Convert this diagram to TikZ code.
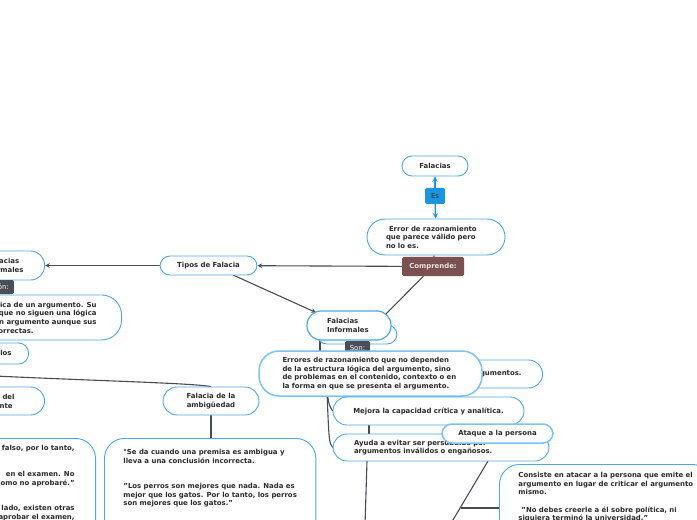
\documentclass[tikz,border=0pt]{standalone}
\usepackage{fontspec}
\setmainfont{DejaVu Sans}
\usetikzlibrary{arrows, positioning, backgrounds}
\definecolor{boxblue}{HTML}{4AA8E8}
\definecolor{liteblue}{HTML}{7CC2F2}
\definecolor{linegray}{HTML}{474B52}
\definecolor{tagblue}{HTML}{1B95E0}
\definecolor{tagbrown}{HTML}{7B5050}
\definecolor{taggray}{HTML}{4A4E55}
\definecolor{inkdark}{HTML}{2A2A2A}
\tikzset{
	box/.style={draw=boxblue, line width=0.9bp, fill=white, rounded corners=10bp, inner sep=0pt, text=inkdark, align=left, font=\fontsize{6.95}{8.6}\selectfont\bfseries},
	bigbox/.style={box, rounded corners=20bp, inner xsep=19bp, inner ysep=11bp},
	litebox/.style={box, draw=liteblue, line width=1.5bp},
	tag/.style={rounded corners=1.5bp, inner sep=0pt, font=\fontsize{6.95}{8.6}\selectfont},
	link/.style={draw=linegray, line width=1.1bp, >=stealth}
}
\begin{document}
\begin{tikzpicture}[x=1bp, y=-1bp]
	\useasboundingbox (0,0) rectangle (697,520);

	\node[box, minimum width=66bp, minimum height=20bp] (falacias) at (435,166) {Falacias};
	\node[tag, fill=tagblue, text=inkdark, minimum width=20bp, minimum height=16bp] (es) at (435,196) {Es};
	\node[box, rounded corners=18bp, minimum width=138bp, minimum height=36bp, text width=100bp] (error) at (436,237) {\hspace*{3bp}Error de razonamiento\\que parece válido pero\\no lo es.};
	\node[tag, fill=tagbrown, text=white!85!tagbrown, font=\fontsize{6.95}{8.6}\selectfont\bfseries, minimum width=62bp, minimum height=19bp] (comprende) at (433,266.5) {Comprende:};
	\node[box, minimum width=97bp, minimum height=19bp] (tipos) at (208.5,265.5) {Tipos de Falacia};

	%parte izquierda
	\node[box, rounded corners=14bp, anchor=east, inner xsep=21bp, minimum height=29bp] (formales) at (45,265.5) {Falacias\\Formales};
	\node[tag, fill=taggray, text=white, anchor=east, inner xsep=5bp, minimum height=14bp] (definicion) at (14,287) {Definición:};
	\node[box, rounded corners=20bp, anchor=east, inner xsep=25bp, minimum height=45bp, align=right] (logica) at (122,317.5) {la lógica de un argumento. Su\\es que no siguen una lógica\hspace*{3bp}\\un argumento aunque sus\hspace*{11bp}\\son correctas.\hspace*{63bp}};
	\node[box, anchor=east, inner xsep=17bp, minimum height=21bp] (ejemplos) at (29,353.5) {Ejemplos};
	\node[box, rounded corners=14bp, anchor=east, inner xsep=30bp, minimum height=28bp, align=right] (antecedente) at (45,401) {Negación del\\antecedente\hspace*{2bp}};
	\node[bigbox, anchor=north east, inner xsep=21bp, inner ysep=7bp, align=right] (falsotxt) at (96,438) {es falso, por lo tanto,\\[17.2bp]en el examen. No\hspace*{18bp}\\como no aprobaré."\hspace*{21bp}\\[17.2bp]otro lado, existen otras\hspace*{2bp}\\aprobar el examen,\hspace*{12bp}\\[50bp]\mbox{}};

	%centro
	\node[box, rounded corners=14bp, minimum width=96bp, minimum height=28bp, align=center] (ambiguedad) at (211,401) {Falacia de la\\ambigüedad};
	\node[bigbox, anchor=north west] (ambigtxt) at (104,438) {°Se da cuando una premisa es ambigua y\\lleva a una conclusión incorrecta.\\[17bp]"Los perros son mejores que nada. Nada es\\mejor que los gatos. Por lo tanto, los perros\\son mejores que los gatos."\\[50bp]\mbox{}};

	\node[box, minimum width=80bp, minimum height=19bp] (detras) at (357,334.5) {};
	\node[tag, fill=taggray, text=white, minimum width=25bp, minimum height=14bp] (son) at (357.5,348) {Son:};
	\node[box, rounded corners=14bp, anchor=east, inner xsep=21bp, minimum height=28bp] (argumentos) at (543,374) {\hspace*{104bp}argumentos.};
	\node[box, rounded corners=14bp, minimum width=84bp, minimum height=29bp, text width=44bp, line width=1.2bp] (informales) at (349,325.5) {Falacias\\Informales};
	\node[litebox, rounded corners=20bp, minimum width=223bp, minimum height=45bp, text width=176bp] (errores) at (370.5,373.5) {Errores de razonamiento que no dependen\\de la estructura lógica del argumento, sino\\de problemas en el contenido, contexto o en\\la forma en que se presenta el argumento.};
	\node[box, rounded corners=14bp, minimum width=191bp, minimum height=28bp] (mejora) at (428.5,411) {Mejora la capacidad crítica y analítica.};
	\node[box, rounded corners=14bp, minimum width=216bp, minimum height=27bp, text width=174bp] (ayuda) at (441,447.5) {Ayuda a evitar ser persuadido por\\argumentos inválidos o engañosos.};
	\node[litebox, minimum width=111bp, minimum height=19bp] (ataque) at (497.5,433.5) {Ataque a la persona};
	\node[bigbox, anchor=north west, inner ysep=8bp] (ataquetxt) at (499,464) {Consiste en atacar a la persona que emite el\\argumento en lugar de criticar el argumento\\mismo.\\[8.6bp]\hspace*{3bp}"No debes creerle a él sobre política, ni\\siquiera terminó la universidad."\\[50bp]\mbox{}};

	\coordinate (salidaizq) at (-5,376);
	\coordinate (curvaizq) at (100,381);
	\coordinate (tiposbajo) at (233,275);
	\coordinate (informarriba) at (316,312.5);
	\coordinate (informbajo) at (320,335);
	\coordinate (erroresarriba) at (320,355);
	\coordinate (erroresbajo) at (327,392);
	\coordinate (comprendefin) at (380,320);
	\coordinate (abajocentro) at (365,525);
	\coordinate (abajoataque) at (450,525);
	\coordinate (ramaataque) at (461,508);
	\coordinate (mejorabajo) at (369,425);
	\coordinate (ayudarriba) at (369,434);
	\coordinate (ayudabajo) at (367,461);
	\coordinate (ataquebajo) at (488,461);

	\begin{scope}[on background layer]
		\draw[->, draw=tagblue, line width=1.4bp, >=stealth] (es) to (falacias);
		\draw[->, draw=tagblue, line width=1.4bp, >=stealth] (es) to (error);
		\draw[link] (error) to (comprende);
		\draw[link, ->] (comprende) to (tipos);
		\draw[link, ->] (tipos) to (formales);
		\draw[link, ->] (tiposbajo) to (informarriba);
		\draw[link] (comprende) to (comprendefin);
		\draw[link] (informbajo) to (erroresarriba);
		\draw[link] (erroresbajo) .. controls (329,405) .. (mejora.west);
		\draw[link] (erroresbajo) .. controls (329,442) .. (ayuda.west);
		\draw[link] (mejorabajo) to (ayudarriba);
		\draw[link] (ayudabajo) to (abajocentro);
		\draw[link] (ataquebajo) to (abajoataque);
		\draw[link] (ramaataque) to (ataquetxt.west |- ramaataque);
		\draw[link] (ambiguedad.north) .. controls (190,383) and (curvaizq) .. (salidaizq);
		\draw[link] (ambiguedad.south) to (ambiguedad.south |- ambigtxt.north);
	\end{scope}
\end{tikzpicture}
\end{document}
